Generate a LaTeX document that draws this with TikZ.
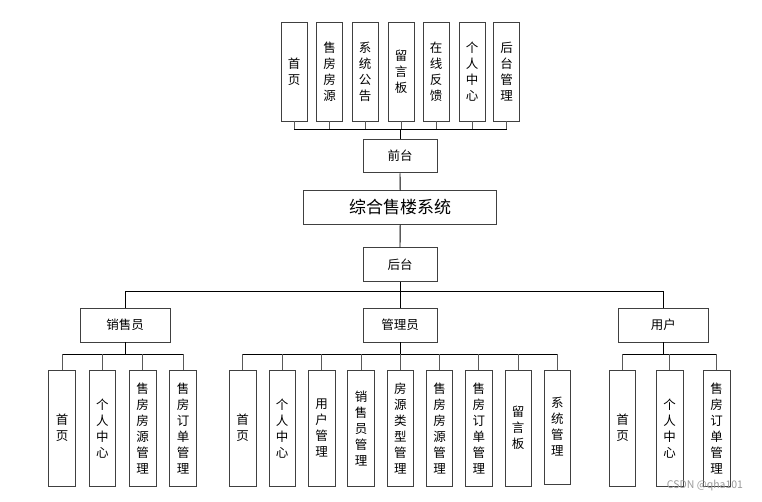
\documentclass[tikz,border=0pt]{standalone}
\usepackage{fontspec}
\setmainfont{Noto Sans CJK SC}
\begin{document}
\begin{tikzpicture}[x=1pt,y=-1pt,
  box/.style={draw=black!75,line width=0.9pt,rectangle,inner sep=0pt,align=center,
    font=\fontsize{12.5}{16}\selectfont},
  vbox/.style={box,minimum width=26.5pt,minimum height=116.5pt},
  tbox/.style={box,minimum width=26pt,minimum height=99pt},
  hbox/.style={box,minimum height=33.6pt},
  bus/.style={draw=black,line width=0.9pt},
  stub/.style={draw=black!65,line width=0.9pt}]
\useasboundingbox (0,0) rectangle (762,501);
% top row
\node[tbox] (t1) at (294,71.5) {首\\页};
\node[tbox] (t2) at (329.7,71.5) {售\\房\\房\\源};
\node[tbox] (t3) at (365,71.5) {系\\统\\公\\告};
\node[tbox] (t4) at (401,71.5) {留\\言\\板};
\node[tbox] (t5) at (436,71.5) {在\\线\\反\\馈};
\node[tbox] (t6) at (472,71.5) {个\\人\\中\\心};
\node[tbox] (t7) at (506.5,71.5) {后\\台\\管\\理};
\node[hbox,minimum width=74pt] (front) at (400,156) {前台};
\node[hbox,minimum width=193pt,font=\fontsize{17}{20}\selectfont] (sys) at (400.2,207.5) {综合售楼系统};
\node[hbox,minimum width=74pt] (back) at (400,264.5) {后台};
% roles
\node[hbox,minimum width=89.7pt] (sales) at (125.2,325.2) {销售员};
\node[hbox,minimum width=74.3pt] (admin) at (400.2,325.2) {管理员};
\node[hbox,minimum width=90pt] (user) at (663.3,325.2) {用户};
% sales children
\node[vbox] (s1) at (62,428.2) {首\\页};
\node[vbox] (s2) at (102.3,428.2) {个\\人\\中\\心};
\node[vbox] (s3) at (142.7,428.2) {售\\房\\房\\源\\管\\理};
\node[vbox] (s4) at (183,428.2) {售\\房\\订\\单\\管\\理};
% admin children
\node[vbox] (a1) at (242.7,428.2) {首\\页};
\node[vbox] (a2) at (282.2,428.2) {个\\人\\中\\心};
\node[vbox] (a3) at (321.7,428.2) {用\\户\\管\\理};
\node[vbox] (a4) at (361,428.2) {销\\售\\员\\管\\理};
\node[vbox] (a5) at (400.3,428.2) {房\\源\\类\\型\\管\\理};
\node[vbox] (a6) at (439.5,428.2) {售\\房\\房\\源\\管\\理};
\node[vbox] (a7) at (478.8,428.2) {售\\房\\订\\单\\管\\理};
\node[vbox] (a8) at (518.2,428.2) {留\\言\\板};
\node[vbox,minimum height=114pt] (a9) at (557.4,427) {系\\统\\管\\理};
% user children
\node[vbox] (u1) at (622.5,428.2) {首\\页};
\node[vbox] (u2) at (669.7,428.2) {个\\人\\中\\心};
\node[vbox] (u3) at (716.7,428.2) {售\\房\\订\\单\\管\\理};
% bus coordinates
\coordinate (tb) at (0,129.3);
\coordinate (mb) at (0,291.7);
\coordinate (cb) at (0,354);
% top connectors
\draw[bus] (t1.south |- tb) -- (t7.south |- tb);
\foreach \n in {t1,t2,t3,t4,t5,t6,t7} \draw[stub] (\n.south) -- (\n.south |- tb);
\draw[bus] (front.north) -- (front.north |- tb);
\draw[bus] (front.south) -- (sys.north);
\draw[bus] (sys.south) -- (back.north);
% main bus
\draw[bus] (back.south) -- (back.south |- mb);
\draw[bus] (sales.north) |- (user.north |- mb) -- (user.north);
\draw[bus] (admin.north) -- (admin.north |- mb);
% sales
\draw[bus] (sales.south) -- (sales.south |- cb);
\draw[bus] (s1.north |- cb) -- (s4.north |- cb);
\foreach \n in {s1,s2,s3,s4} \draw[stub] (\n.north) -- (\n.north |- cb);
% admin
\draw[bus] (admin.south) -- (admin.south |- cb);
\draw[bus] (a1.north |- cb) -- (a9.north |- cb);
\foreach \n in {a1,a2,a3,a4,a5,a6,a7,a8,a9} \draw[stub] (\n.north) -- (\n.north |- cb);
% user
\draw[bus] (user.south) -- (user.south |- cb);
\draw[bus] (u1.north |- cb) -- (u3.north |- cb);
\foreach \n in {u1,u2,u3} \draw[stub] (\n.north) -- (\n.north |- cb);
% watermark
\node[text=black!40,font=\fontsize{10.5}{12}\selectfont,inner sep=0pt] (wm) at (705,485.5) {CSDN @qha101};
\end{tikzpicture}
\end{document}
